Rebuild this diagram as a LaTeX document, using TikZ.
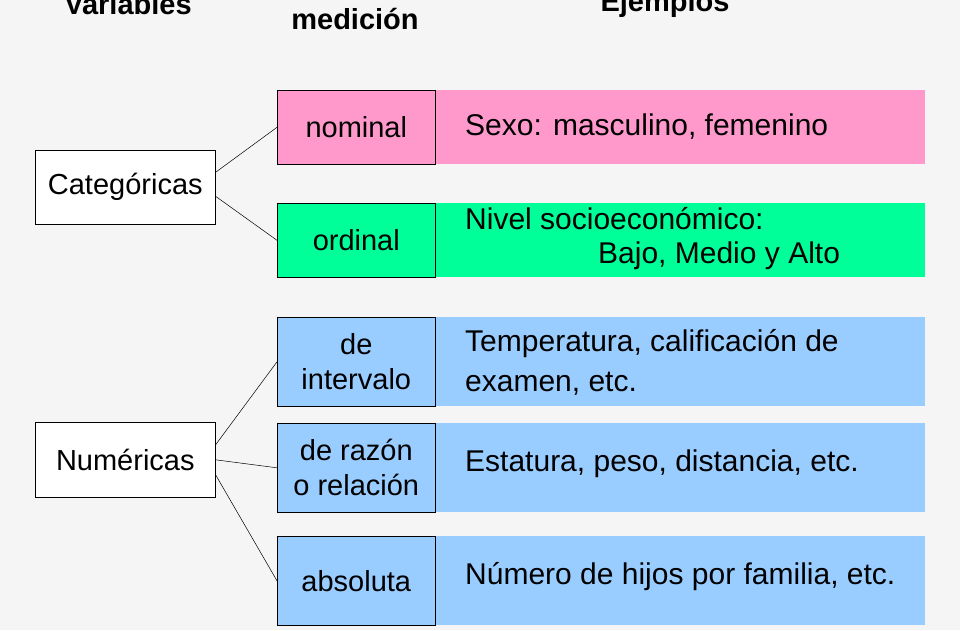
\documentclass[tikz,border=0pt]{standalone}
\usepackage{fontspec}
\setmainfont{Liberation Sans}
\begin{document}
\begin{tikzpicture}[x=1pt,y=-1pt,
  box/.style={draw=black,line width=0.6pt,anchor=north west,inner sep=0pt,align=center,font=\fontsize{29}{35}\selectfont},
  ex/.style={anchor=north west,inner sep=0pt,minimum width=490pt},
  txt/.style={anchor=west,inner sep=0pt,align=left,font=\fontsize{30}{40}\selectfont},
  hd/.style={font=\bfseries\fontsize{29}{33}\selectfont,inner sep=0pt},
  ln/.style={line width=0.5pt}]
\definecolor{pk}{HTML}{FF99CC}\definecolor{gr}{HTML}{00FF99}\definecolor{bl}{HTML}{99CCFF}
\clip (0,0) rectangle (960,630);
\fill[white!96!black] (0,0) rectangle (960,630);
\node[hd] (h1) at (128,4) {Variables};
\node[hd] (h2) at (355,19) {medición};
\node[hd] (h3) at (665,4) {Ejemplos};
% example bars
\node[ex,fill=pk,minimum height=74pt] (e1) at (435,90) {};
\node[ex,fill=gr,minimum height=74pt] (e2) at (435,203) {};
\node[ex,fill=bl,minimum height=89pt] (e3) at (435,317) {};
\node[ex,fill=bl,minimum height=89pt] (e4) at (435,423) {};
\node[ex,fill=bl,minimum height=89pt] (e5) at (435,536) {};
% left
\node[box,fill=white,minimum width=180pt,minimum height=74pt] (cat) at (35,150) {Categóricas};
\node[box,fill=white,minimum width=180pt,minimum height=75pt] (num) at (35,422) {Numéricas};
\node[box,fill=pk,minimum width=158pt,minimum height=74pt] (nom) at (277,90) {nominal};
\node[box,fill=gr,minimum width=158pt,minimum height=74pt] (ord) at (277,203) {ordinal};
\node[box,fill=bl,minimum width=158pt,minimum height=89pt] (int) at (277,317) {de\\intervalo};
\node[box,fill=bl,minimum width=158pt,minimum height=89pt] (raz) at (277,423) {de razón\\o relación};
\node[box,fill=bl,minimum width=158pt,minimum height=89pt] (abs) at (277,536) {absoluta};
% texts
\node[txt] (t1) at (465,127) {Sexo: masculino, femenino};
\node[txt] (t2) at (465,219) {Nivel socioeconómico:};
\node[txt] (t2b) at (598,256) {Bajo, Medio y Alto};
\node[txt] (t3) at (465,362) {Temperatura, calificación de\\examen, etc.};
\node[txt] (t4) at (465,464) {Estatura, peso, distancia, etc.};
\node[txt] (t5) at (465,577) {Número de hijos por familia, etc.};
% connectors
\draw[ln] ([yshift=15pt]cat.east) -- (nom.west);
\draw[ln] ([yshift=-9pt]cat.east) -- (ord.west);
\draw[ln] ([yshift=15pt]num.east) -- (int.west);
\draw[ln] (num.east) -- (raz.west);
\draw[ln] ([yshift=-15pt]num.east) -- (abs.west);
\end{tikzpicture}
\end{document}
